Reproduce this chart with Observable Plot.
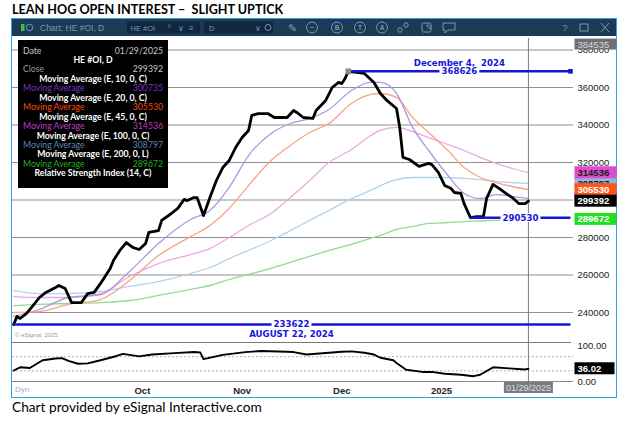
<!DOCTYPE html>
<html>
<head>
<meta charset="utf-8">
<script src="https://cdn.jsdelivr.net/npm/d3@7"></script>
<script src="https://cdn.jsdelivr.net/npm/@observablehq/plot@0.6"></script>
<style>
html,body{margin:0;padding:0;background:#fff;}
body{width:638px;height:423px;position:relative;overflow:hidden;}
.abs{position:absolute;}
#title{left:12px;top:2px;font:bold 12.6px Lato, sans-serif;white-space:pre;color:#000;}
#frame{left:11px;top:18px;width:606px;height:380px;box-sizing:border-box;border:1.5px solid #2fa2e2;background:#fff;}
#toolbar{left:12px;top:19px;}
#legend{left:18px;top:40px;width:150px;height:148px;background:#000;font-family:Lato,sans-serif;font-size:8.7px;}
.row{position:absolute;left:5px;right:5px;height:10px;line-height:10px;white-space:nowrap;}
.row .l{position:absolute;left:0;}
.row .r{position:absolute;right:0;}
.row.h{text-align:center;font-weight:bold;color:#fff;}
#footer{left:12px;top:398px;font:13.7px Lato,sans-serif;color:#000;white-space:pre;}
#copy{left:15px;top:332px;font:6px "Liberation Sans",sans-serif;color:#999;}
#dyn{left:15px;top:385px;font:8px "Liberation Sans",sans-serif;color:#aab;}
</style>
</head>
<body>
<div id="title" class="abs">LEAN HOG OPEN INTEREST –  SLIGHT UPTICK</div>
<div id="frame" class="abs"></div>
<svg id="toolbar" class="abs" width="604" height="17" font-family="Liberation Sans, sans-serif">
  <rect width="604" height="17" fill="#1c3a58"/>
  <rect x="9" y="5" width="3.5" height="7" fill="#3fbf3f"/>
  <circle cx="17.5" cy="8.5" r="3.2" fill="none" stroke="#7d97b5" stroke-width="1"/>
  <text x="28" y="11.8" fill="#7d97b5" font-size="8.5">Chart: HE #OI, D</text>
  <rect x="115" y="2.5" width="73" height="12" fill="#0f2840"/>
  <text x="118.5" y="11.5" fill="#7d97b5" font-size="7.5">HE #OI</text>
  <text x="156" y="9" fill="#7d97b5" font-size="5">II</text>
  <text x="166" y="12" fill="#7d97b5" font-size="8">∨</text>
  <text x="177" y="12" fill="#7d97b5" font-size="8">≡</text>
  <rect x="192" y="2.5" width="69" height="12" fill="#0f2840"/>
  <text x="197" y="11.5" fill="#7d97b5" font-size="7.5">D</text>
  <text x="243" y="12" fill="#7d97b5" font-size="8">∨</text>
  <circle cx="256" cy="8.5" r="3" fill="none" stroke="#7d97b5"/>
  <text x="276" y="13" fill="#7d97b5" font-size="11" font-family="DejaVu Sans">✎</text>
  <g fill="none" stroke="#7d97b5" stroke-width="1">
    <circle cx="300" cy="8.5" r="5.5"/>
    <circle cx="325" cy="8.5" r="5.5"/>
    <circle cx="348" cy="8.5" r="5.5"/>
    <circle cx="370" cy="8.5" r="5.5"/>
    <circle cx="388" cy="11" r="2.2"/>
    <circle cx="394" cy="6" r="2.2"/>
    <rect x="410" y="4" width="9" height="9" rx="1.5"/>
    <path d="M431 4h12v7h-7l-3 3v-3h-2z"/>
    <rect x="568" y="5" width="8" height="7"/>
    <path d="M589 4l8 9M597 4l-8 9"/>
  </g>
  <g fill="#7d97b5" font-size="6.5" text-anchor="middle" font-weight="bold">
    <text x="300" y="11">~</text>
    <text x="325" y="11">B</text>
    <text x="348" y="11">T</text>
    <text x="370" y="11">A</text>
    <text x="417" y="11" font-size="8" font-family="DejaVu Sans">✎</text>
    <text x="553" y="12" font-size="9" font-weight="normal">?</text>
  </g>
</svg>
<div id="copy" class="abs">© eSignal, 2025</div>
<div id="dyn" class="abs">Dyn</div>
<div id="legend" class="abs"></div>
<div id="footer" class="abs">Chart provided by eSignal Interactive.com</div>
<script>
// ---------------- DATA ----------------
const closeDates = ["2024-08-22","2024-08-23","2024-08-24","2024-08-26","2024-08-28","2024-08-30","2024-09-01","2024-09-04","2024-09-05","2024-09-07","2024-09-09","2024-09-12","2024-09-14","2024-09-16","2024-09-18","2024-09-21","2024-09-22","2024-09-24","2024-09-26","2024-09-28","2024-09-30","2024-10-02","2024-10-03","2024-10-06","2024-10-07","2024-10-10","2024-10-12","2024-10-14","2024-10-15","2024-10-17","2024-10-18","2024-10-20","2024-10-22","2024-10-24","2024-10-26","2024-10-28","2024-10-30","2024-11-01","2024-11-03","2024-11-04","2024-11-06","2024-11-09","2024-11-11","2024-11-15","2024-11-17","2024-11-18","2024-11-20","2024-11-23","2024-11-24","2024-11-27","2024-11-29","2024-12-01","2024-12-02","2024-12-03","2024-12-04","2024-12-09","2024-12-12","2024-12-14","2024-12-16","2024-12-19","2024-12-20","2024-12-21","2024-12-23","2024-12-26","2024-12-29","2024-12-30","2025-01-01","2025-01-03","2025-01-05","2025-01-06","2025-01-08","2025-01-09","2025-01-11","2025-01-13","2025-01-15","2025-01-16","2025-01-18","2025-01-20","2025-01-22","2025-01-24","2025-01-26","2025-01-28","2025-01-29"];
const closeValues = [233622,237900,236800,239500,243700,248000,250700,253300,254400,252800,245300,245300,250100,250700,255500,263500,267700,273100,277300,274700,273600,276800,282700,283700,289100,292800,295500,300300,299700,301300,301300,291700,301300,310400,317300,321100,328000,333300,337100,345100,346100,346100,344000,344000,347700,346700,344000,343500,347700,353100,360000,362700,362100,364800,368626,367500,362700,356800,353100,348800,338700,322700,321600,317900,319500,318900,314700,307700,306100,304000,303500,298100,290530,291100,291100,300800,308300,306100,303500,301300,298100,298100,299392];

const maDates = ["2024-08-22","2024-08-30","2024-09-08","2024-09-18","2024-09-27","2024-10-06","2024-10-16","2024-10-22","2024-10-28","2024-11-03","2024-11-10","2024-11-16","2024-11-22","2024-11-28","2024-12-05","2024-12-11","2024-12-14","2024-12-19","2024-12-24","2024-12-29","2025-01-04","2025-01-09","2025-01-14","2025-01-19","2025-01-24","2025-01-29"];
const ema10  = [237900,241600,248000,249600,261900,276800,289600,294400,306700,323700,335500,340800,343500,348300,358400,362700,362700,356800,338700,326400,313100,303500,300800,302900,301900,300735];
const ema20  = [240000,240500,244300,246900,257100,270400,280500,286400,295500,307700,321100,329100,336000,340800,351500,356300,356800,354700,344000,336000,326400,317300,312000,309300,307200,305530];
const ema45  = [248500,248000,248000,250100,259200,266100,270900,274100,280000,286400,292800,301300,310400,320000,326900,334400,337100,338700,336500,333300,329600,326400,322700,319500,316800,314536];
const ema100 = [251700,250100,250100,251200,253900,256500,260800,264000,268800,273100,278400,283700,289100,294400,300800,305100,307700,310900,312000,312000,312000,311500,310900,309900,309300,308797];
const ema200 = [243700,244300,244800,245300,246400,249100,252300,254400,257600,260300,263500,266700,269900,273100,276300,279500,281100,284300,285900,287500,288000,288500,288800,289100,289400,289672];

const rsiDates = ["2024-08-22","2024-08-24","2024-08-27","2024-08-31","2024-09-04","2024-09-06","2024-09-08","2024-09-11","2024-09-14","2024-09-18","2024-09-23","2024-09-25","2024-09-30","2024-10-04","2024-10-11","2024-10-17","2024-10-19","2024-10-20","2024-10-26","2024-11-02","2024-11-07","2024-11-15","2024-11-17","2024-11-21","2024-11-25","2024-12-02","2024-12-05","2024-12-09","2024-12-12","2024-12-14","2024-12-18","2024-12-19","2024-12-22","2024-12-27","2024-12-30","2025-01-03","2025-01-08","2025-01-12","2025-01-14","2025-01-18","2025-01-23","2025-01-28","2025-01-29"];
const rsiValues = [31,40,38,60,65,66,58,50,51,60,72,78,71,76,80,83,82,63,75,83,86,84,83,76,79,84,85,81,76,67,60,52,33,27,27,22,19,15,19,40,37,34,36.02];

const priceTicks = [240000,260000,280000,300000,320000,340000,360000,380000];
const rsiTicks = [0,100];
const rsiGuides = [30,70];
const monthTicks = ["2024-10-01","2024-11-01","2024-12-02","2025-01-02"];
const scaleTop = 384535;
const seriesNames = ["Moving Average (E, 10, 0, C)","Moving Average (E, 20, 0, C)","Moving Average (E, 45, 0, C)","Moving Average (E, 100, 0, C)","Moving Average (E, 200, 0, L)"];
const symbolName = "HE #OI, D";
const rsiName = "Relative Strength Index (14, C)";

// ---------------- STYLE ----------------
const BLUE = "#1616d8";
const lineColors = {ema10:"#ad97e0", ema20:"#f6a585", ema45:"#eba8e2", ema100:"#b2d2ea", ema200:"#90dc90"};
const legendColors = {ema10:"#7a34c8", ema20:"#ff4a10", ema45:"#c43cc0", ema100:"#5b86b8", ema200:"#22b022"};
const boxStyle = {
  ema100:{bg:"#8fb8dc", fg:"#1a1a1a"}, ema10:{bg:"#7a34c8", fg:"#fff"}, ema45:{bg:"#df4ccf", fg:"#1a1a1a"},
  ema20:{bg:"#ff561c", fg:"#fff"}, close:{bg:"#000", fg:"#fff"}, ema200:{bg:"#22dd22", fg:"#fff"}
};

// ---------------- BUILD ----------------
const P = s => new Date(s + "T00:00:00Z");
const close = closeDates.map((d,i) => ({date:P(d), value:closeValues[i]}));
const ma = {ema10, ema20, ema45, ema100, ema200};
const maData = Object.fromEntries(Object.entries(ma).map(([k,arr]) => [k, maDates.map((d,i)=>({date:P(d), value:arr[i]}))]));
const rsi = rsiDates.map((d,i)=>({date:P(d), value:rsiValues[i]}));
const lastDate = close[close.length-1].date;
const xDomain = [new Date("2024-08-21T15:00:00Z"), new Date("2025-02-11T02:00:00Z")];
const mid = (a,b) => new Date((+a + +b)/2);

const peak = close.reduce((a,b)=> b.value > a.value ? b : a);
const afterPeak = close.filter(d => d.date > peak.date);
const low = afterPeak.reduce((a,b)=> b.value < a.value ? b : a);
const start = close[0];
const levels = [
  {key:"start", date: xDomain[0], value: start.value, when: start.date},
  {key:"peak", date: peak.date, value: peak.value, when: peak.date},
  {key:"low", date: low.date, value: low.value, when: low.date}
];

const lastLabels = [
  {key:"ema100", value: ema100[ema100.length-1]},
  {key:"ema10",  value: ema10[ema10.length-1]},
  {key:"ema45",  value: ema45[ema45.length-1]},
  {key:"ema20",  value: ema20[ema20.length-1]},
  {key:"close",  value: closeValues[closeValues.length-1]},
  {key:"ema200", value: ema200[ema200.length-1]}
];

const fmtLong = d3.utcFormat("%B %-d,  %Y");
const fmtUpper = d => d3.utcFormat("%B %-d, %Y")(d).toUpperCase();
const fmtMDY = d3.utcFormat("%m/%d/%Y");

const NS = "http://www.w3.org/2000/svg";
function boxUnder(svg, str, fill, o = {}) {
  [...svg.querySelectorAll("text")].filter(t => t.textContent === str).forEach(t => {
    const bb = t.getBBox();
    const r = document.createElementNS(NS, "rect");
    const w = o.w ?? bb.width + 4;
    const h = o.h ?? bb.height - 1;
    const x = o.w ? bb.x - (o.left ?? 3) : bb.x - 2;
    const y = bb.y + bb.height/2 - h/2 + (o.dy ?? 0);
    r.setAttribute("x", x); r.setAttribute("y", y);
    r.setAttribute("width", w); r.setAttribute("height", h);
    r.setAttribute("fill", fill); r.setAttribute("stroke", "none");
    const tr = t.getAttribute("transform"); if (tr) r.setAttribute("transform", tr);
    t.parentNode.insertBefore(r, t);
  });
}

const priceSvg = Plot.plot({
  width: 638, height: 305,
  marginLeft: 12, marginRight: 68, marginTop: 0, marginBottom: 0,
  x: {type:"utc", domain: xDomain, axis: null},
  y: {domain: [223467, 386133]},
  color: {type: "identity"},
  style: {fontFamily: "Liberation Sans, Arial, sans-serif", fontSize: "9.5px", color: "#222", background: "transparent", overflow: "visible", whiteSpace: "pre"},
  marks: [
    Plot.gridY(priceTicks, {stroke: "#8f8f8f", strokeOpacity: 1, strokeWidth: 1, insetRight: -3}),
    Plot.axisY(priceTicks, {anchor: "right", tickSize: 0, tickPadding: 7, tickFormat: d => String(d), label: null, fill: "#222"}),
    Plot.line(maData.ema100, {x:"date", y:"value", stroke: lineColors.ema100, strokeWidth: 1.3, curve: "monotone-x"}),
    Plot.line(maData.ema200, {x:"date", y:"value", stroke: lineColors.ema200, strokeWidth: 1.3, curve: "monotone-x"}),
    Plot.line(maData.ema45, {x:"date", y:"value", stroke: lineColors.ema45, strokeWidth: 1.3, curve: "monotone-x"}),
    Plot.line(maData.ema20, {x:"date", y:"value", stroke: lineColors.ema20, strokeWidth: 1.3, curve: "monotone-x"}),
    Plot.line(maData.ema10, {x:"date", y:"value", stroke: lineColors.ema10, strokeWidth: 1.3, curve: "monotone-x"}),
    Plot.ruleX([lastDate], {stroke: "#7a7a7a", strokeWidth: 1}),
    Plot.line(close, {x:"date", y:"value", stroke: "#000", strokeWidth: 2.8, strokeLinejoin: "round"}),
    Plot.link(levels, {x1: "date", x2: () => xDomain[1], y1: "value", y2: "value", stroke: BLUE, strokeWidth: 2.5}),
    Plot.dot([peak], {x: "date", y: "value", symbol: "square", r: 3.2, fill: "#8a8a8a", stroke: "none"}),
    Plot.dot([peak], {x: () => xDomain[1], y: "value", symbol: "square", r: 2.6, fill: BLUE, stroke: "none"}),
    Plot.text([peak], {x: d => mid(d.date, xDomain[1]), y: "value", text: d => fmtLong(d.date), dy: -8, fill: BLUE, fontWeight: "bold", fontSize: 8.6, fontFamily: "DejaVu Sans"}),
    Plot.text(levels, {x: d => mid(d.date, xDomain[1]), y: "value", text: d => String(d.value), fill: BLUE, fontWeight: "bold", fontSize: 8.6, fontFamily: "DejaVu Sans"}),
    Plot.text(levels.filter(d => d.key === "start"), {x: d => mid(d.date, xDomain[1]), y: "value", text: d => fmtUpper(d.when), dy: 10, fill: BLUE, fontWeight: "bold", fontSize: 8.6, fontFamily: "DejaVu Sans"}),
    Plot.text([scaleTop], {y: d => d, text: d => String(d), frameAnchor: "right", textAnchor: "start", dx: 7, dy: 3, fill: "#d8d8d8", fontSize: 9.5}),
    Plot.text(lastLabels, {y: "value", text: d => String(d.value), frameAnchor: "right", textAnchor: "start", dx: 7, fill: d => boxStyle[d.key].fg, fontWeight: "bold", fontSize: 9.5})
  ]
});
priceSvg.style.position = "absolute"; priceSvg.style.left = "0px"; priceSvg.style.top = "38px";
document.body.insertBefore(priceSvg, document.getElementById("copy"));
levels.forEach(d => boxUnder(priceSvg, String(d.value), "#fff"));
boxUnder(priceSvg, String(scaleTop), "#6f6f75", {w: 42, left: 3, h: 11});
lastLabels.forEach(d => boxUnder(priceSvg, String(d.value), boxStyle[d.key].bg, {w: 42, left: 3, h: 12}));

const rsiSvg = Plot.plot({
  width: 638, height: 57,
  marginLeft: 12, marginRight: 68, marginTop: 1, marginBottom: 17,
  x: {type: "utc", domain: xDomain},
  y: {domain: [0, 110]},
  style: {fontFamily: "Liberation Sans, Arial, sans-serif", fontSize: "9.5px", color: "#222", background: "transparent", overflow: "visible"},
  marks: [
    Plot.ruleY(rsiGuides, {stroke: "#b0b0b0", strokeDasharray: "2,2", strokeWidth: 1, insetRight: -3}),
    Plot.ruleY([0], {stroke: "#8a8a8a", strokeWidth: 1.2, insetRight: -3}),
    Plot.frame({anchor: "top", stroke: "#7a7a7a", strokeWidth: 1.2}),
    Plot.axisY(rsiTicks, {anchor: "right", tickSize: 0, tickPadding: 7, tickFormat: d3.format(".2f"), label: null, fill: "#222"}),
    Plot.axisX(monthTicks.map(P), {tickSize: 0, tickPadding: 6, tickFormat: d => d.getUTCMonth() === 0 ? String(d.getUTCFullYear()) : d3.utcFormat("%b")(d), label: null, fontWeight: "bold", fill: "#222"}),
    Plot.ruleX([lastDate], {stroke: "#7a7a7a", strokeWidth: 1, insetBottom: -4}),
    Plot.line(rsi, {x: "date", y: "value", stroke: "#000", strokeWidth: 1.9, strokeLinejoin: "round"}),
    Plot.text([rsi[rsi.length-1]], {y: "value", text: d => d.value.toFixed(2), frameAnchor: "right", textAnchor: "start", dx: 7, fill: "#fff", fontWeight: "bold", fontSize: 9.5}),
    Plot.text([lastDate], {x: d => d, frameAnchor: "bottom", text: d => fmtMDY(d), dy: 9, fill: "#dcdcdc", fontSize: 9})
  ]
});
rsiSvg.style.position = "absolute"; rsiSvg.style.left = "0px"; rsiSvg.style.top = "341px";
document.body.insertBefore(rsiSvg, document.getElementById("copy"));
boxUnder(rsiSvg, rsi[rsi.length-1].value.toFixed(2), "#000", {w: 40, left: 3, h: 12});
boxUnder(rsiSvg, fmtMDY(lastDate), "#7b7b85", {h: 11});

// ---------------- LEGEND (tooltip box) ----------------
const legend = document.getElementById("legend");
const rows = [
  {l: "Date", r: fmtMDY(lastDate), lc: "#c8c8c8", rc: "#c8c8c8"},
  {h: symbolName},
  {l: "Close", r: String(closeValues[closeValues.length-1]), lc: "#9a9a9a", rc: "#c8c8c8"}
];
["ema10","ema20","ema45","ema100","ema200"].forEach((k, i) => {
  rows.push({h: seriesNames[i]});
  rows.push({l: "Moving Average", r: String(ma[k][ma[k].length-1]), lc: legendColors[k], rc: legendColors[k]});
});
rows.push({h: rsiName});
rows.forEach((row, i) => {
  const div = document.createElement("div");
  div.className = "row" + (row.h ? " h" : "");
  div.style.top = (5.5 + i * 9.45) + "px";
  if (row.h) div.textContent = row.h;
  else {
    const a = document.createElement("span"); a.className = "l"; a.textContent = row.l; a.style.color = row.lc;
    const b = document.createElement("span"); b.className = "r"; b.textContent = row.r; b.style.color = row.rc;
    div.append(a, b);
  }
  legend.appendChild(div);
});
</script>
</body>
</html>
